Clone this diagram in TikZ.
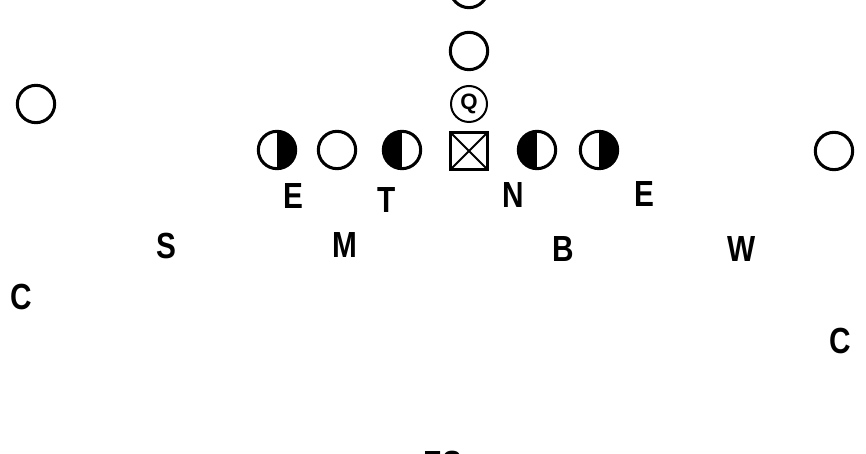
\documentclass[tikz,border=0pt]{standalone}
\usepackage{fontspec}
\setmainfont{Liberation Sans}
\newcommand{\lbl}[1]{\scalebox{0.82}[1]{\bfseries\fontsize{31}{31}\selectfont #1}}
\begin{document}
\begin{tikzpicture}[x=0.03cm,y=-0.03cm,
  player/.style={circle,draw,line width=2.6pt,minimum size=1.12cm,inner sep=0pt},
  halfR/.style={player,path picture={\fill (path picture bounding box.south) rectangle (path picture bounding box.north east);}},
  halfL/.style={player,path picture={\fill (path picture bounding box.south west) rectangle (path picture bounding box.north);}},
  centerbox/.style={rectangle,draw,line width=2.6pt,minimum size=1.12cm,inner sep=0pt,
    path picture={\draw[line width=1.6pt] (path picture bounding box.north west) -- (path picture bounding box.south east)
      (path picture bounding box.north east) -- (path picture bounding box.south west);}},
  qb/.style={circle,draw,line width=1.7pt,minimum size=1.08cm,inner sep=0pt,font=\bfseries\fontsize{19}{19}\selectfont},
  lab/.style={inner sep=0pt}]
\useasboundingbox (0,0) rectangle (866,454);
\clip (0,0) rectangle (866,454);
\fill[white] (0,0) rectangle (866,454);
% offense
\node[player] (top) at (469,-11) {};
\node[player] (back) at (469,51) {};
\node[qb] (q) at (469,104) {Q};
\node[player] (wl) at (36,104) {};
\node[player] (wr) at (834,151) {};
\node[halfR] (o1) at (277,150) {};
\node[player] (o2) at (337,150) {};
\node[halfL] (o3) at (402,150) {};
\node[centerbox] (c) at (469,151) {};
\node[halfL] (o4) at (537,150) {};
\node[halfR] (o5) at (599,150) {};
% defense
\node[lab] (e1) at (293,196) {\lbl{E}};
\node[lab] (t) at (387,200) {\lbl{T}};
\node[lab] (n) at (513,195) {\lbl{N}};
\node[lab] (e2) at (644,194) {\lbl{E}};
\node[lab] (s) at (166,246) {\lbl{S}};
\node[lab] (m) at (345,245) {\lbl{M}};
\node[lab] (b) at (563,249) {\lbl{B}};
\node[lab] (w) at (742,249) {\lbl{W}};
\node[lab] (cl) at (21,297) {\lbl{C}};
\node[lab] (cr) at (840,341) {\lbl{C}};
\node[lab] (fs) at (443,464) {\lbl{FS}};
\end{tikzpicture}
\end{document}
